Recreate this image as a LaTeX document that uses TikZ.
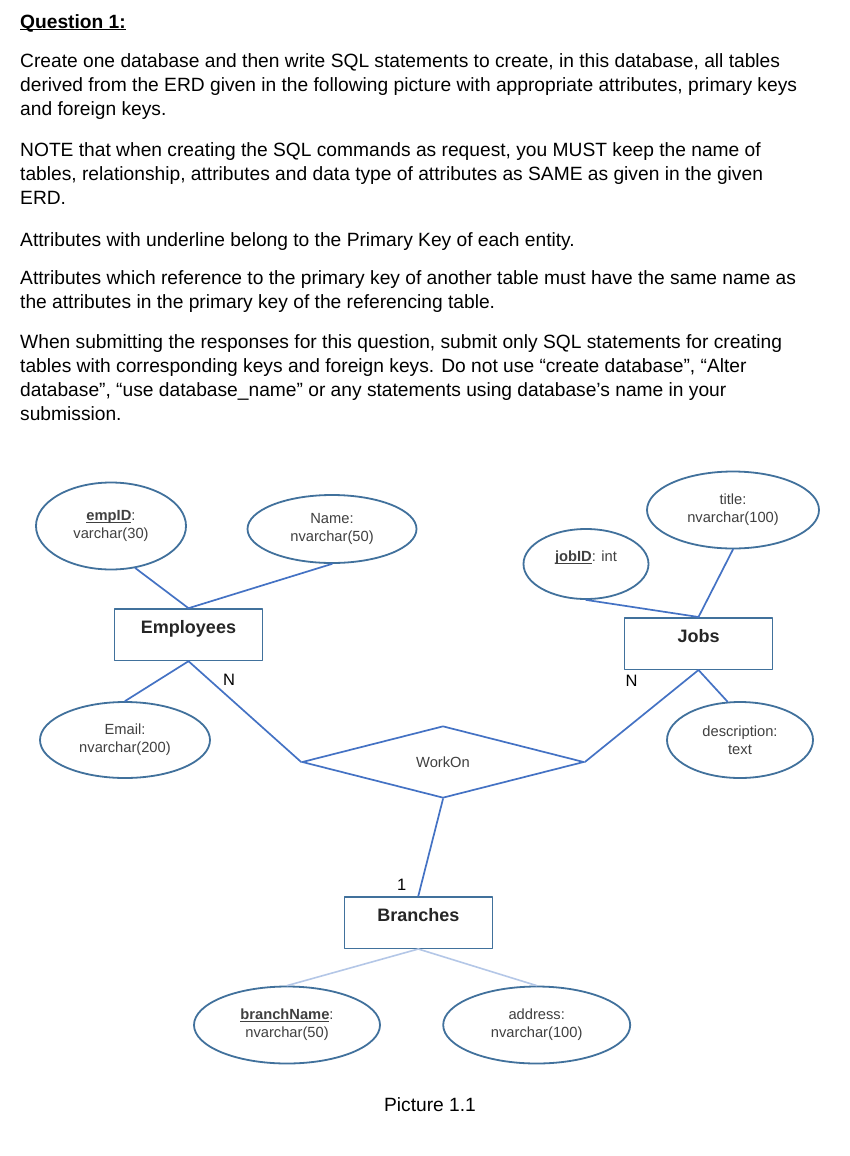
\documentclass[tikz,border=0pt]{standalone}
\usepackage{fontspec}
\setmainfont{Liberation Sans}
\usetikzlibrary{shapes.geometric}
\definecolor{ellblue}{HTML}{41719C}
\definecolor{lineblue}{HTML}{4472C4}
\definecolor{paleblue}{HTML}{B4C7E7}
\definecolor{graytext}{HTML}{404040}
\newcommand\pk[1]{\underline{\raisebox{0pt}[\height][0pt]{\textbf{#1}}}}
\tikzset{
  para/.style={anchor=north west,align=left,inner sep=0pt,font=\fontsize{19.2}{24}\selectfont},
  attr/.style={ellipse,draw=ellblue,line width=1.8pt,inner sep=0pt,align=center,text=graytext,font=\fontsize{14.7}{18}\selectfont},
  entity/.style={rectangle,draw=ellblue,line width=1.5pt,inner sep=0pt,minimum width=148pt,text height=25pt,text depth=26.5pt,font=\bfseries\fontsize{18}{20}\selectfont,text=black!85},
  relation/.style={diamond,draw=lineblue,line width=1.7pt,inner sep=0pt,minimum width=282pt,minimum height=72pt,text=graytext,font=\fontsize{14.7}{18}\selectfont},
  link/.style={draw=lineblue,line width=1.7pt},
  palelink/.style={draw=paleblue,line width=1.6pt},
  card/.style={font=\fontsize{16.5}{18}\selectfont}
}
\begin{document}
\begin{tikzpicture}[x=1pt,y=-1pt,line join=round,line cap=round]
	\fill[white] (0,0) rectangle (850,1156);
	\useasboundingbox (0,0) rectangle (850,1156);
	% question text
	\node[para] (q) at (20,14) {\rule{0pt}{14pt}\pk{Question 1:}};
	\node[para] (p1) at (20,53) {\rule{0pt}{14pt}Create one database and then write SQL statements to create, in this database, all tables\\
		derived from the ERD given in the following picture with appropriate attributes, primary keys\\
		and foreign keys.};
	\node[para] (p2) at (20,142) {\rule{0pt}{14pt}NOTE that when creating the SQL commands as request, you MUST keep the name of\\
		tables, relationship, attributes and data type of attributes as SAME as given in the given\\
		ERD.};
	\node[para] (p3) at (20,232) {\rule{0pt}{14pt}Attributes with underline belong to the Primary Key of each entity.};
	\node[para] (p4) at (20,270) {\rule{0pt}{14pt}Attributes which reference to the primary key of another table must have the same name as\\
		the attributes in the primary key of the referencing table.};
	\node[para] (p5) at (20,334) {\rule{0pt}{14pt}When submitting the responses for this question, submit only SQL statements for creating\\
		tables with corresponding keys and foreign keys. Do not use “create database”, “Alter\\
		database”, “use database\_name” or any statements using database’s name in your\\
		submission.};
	% attributes and entities
	\node[attr,minimum width=150pt,minimum height=87pt] (empid) at (111,526) {\pk{empID}:\\varchar(30)};
	\node[attr,minimum width=169pt,minimum height=68pt] (name) at (332,529) {Name:\\nvarchar(50)};
	\node[attr,minimum width=125pt,minimum height=70pt,text depth=16pt] (jobid) at (586,564) {\pk{jobID}: int};
	\node[attr,minimum width=172pt,minimum height=77pt] (title) at (733,510) {title:\\nvarchar(100)};
	\node[entity] (emp) at (188.5,634.7) {Employees};
	\node[entity] (jobs) at (698.5,643.5) {Jobs};
	\node[attr,minimum width=170pt,minimum height=76pt] (email) at (125,740) {Email:\\nvarchar(200)};
	\node[attr,minimum width=146pt,minimum height=76pt] (desc) at (740,740) {description:\\text};
	\node[relation] (work) at (443,762) {WorkOn};
	\node[entity] (branch) at (418.3,922.5) {Branches};
	\node[attr,minimum width=186pt,minimum height=77pt] (bname) at (287,1025) {\pk{branchName}:\\nvarchar(50)};
	\node[attr,minimum width=187pt,minimum height=77pt] (addr) at (536.7,1025) {address:\\nvarchar(100)};
	% connectors
	\draw[link] (empid.-60) -- (emp.north);
	\draw[link] (name.south) -- (emp.north);
	\draw[link] (emp.south) -- (email.north);
	\draw[link] (emp.south) -- (work.west);
	\draw[link] (jobid.south) -- (jobs.north);
	\draw[link] (title.south) -- (jobs.north);
	\draw[link] (jobs.south) -- (desc.108);
	\draw[link] (jobs.south) -- (work.east);
	\draw[link] (work.south) -- (branch.north);
	\draw[palelink] (branch.south) -- (bname.north);
	\draw[palelink] (branch.south) -- (addr.north);
	% cardinalities
	\node[card] (n1) at (229,680) {N};
	\node[card] (n2) at (631.5,681) {N};
	\node[card] (one) at (401.7,885) {1};
	\node[font=\fontsize{19.2}{24}\selectfont] (cap) at (430,1105) {Picture 1.1};
\end{tikzpicture}
\end{document}
